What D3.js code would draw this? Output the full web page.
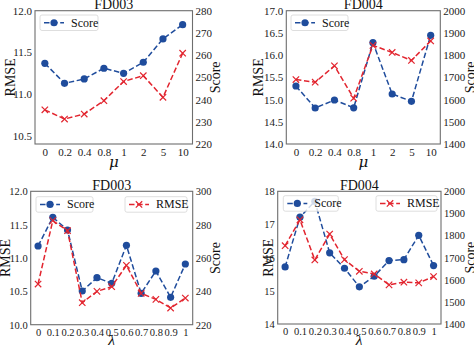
<!DOCTYPE html>
<html>
<head>
<meta charset="utf-8">
<script src="https://cdn.jsdelivr.net/npm/d3@7"></script>
<style>
  body { margin: 0; background: #fff; }
  svg { display: block; }
  svg text { font-family: "Liberation Serif", "Times New Roman", serif; }
  svg text.greek { font-family: "DejaVu Serif", serif; }
</style>
</head>
<body>
<div id="chart"></div>
<script>
const width = 474;
const height = 345;

// x categories
const muLabels = ['0', '0.2', '0.4', '0.8', '1', '2', '5', '10'];
const lambdaLabels = ['0', '0.1', '0.2', '0.3', '0.4', '0.5', '0.6', '0.7', '0.8', '0.9', '1'];

// series values
const fd003MuScore = [256.3, 247.3, 249.3, 254.1, 251.8, 256.8, 267.3, 273.7];
const fd003MuRmse = [10.81, 10.70, 10.76, 10.92, 11.15, 11.22, 10.96, 11.49];
const fd004MuScore = [1661, 1562, 1598, 1563, 1856, 1625, 1592, 1889];
const fd004MuRmse = [15.45, 15.39, 15.76, 15.03, 16.22, 16.06, 15.88, 16.32];
const fd003LamScore = [267.2, 284.4, 276.8, 240.2, 248.2, 244.8, 267.6, 238.8, 252.2, 236.4, 256.4];
const fd003LamRmse = [10.61, 11.56, 11.41, 10.33, 10.50, 10.57, 10.89, 10.47, 10.38, 10.25, 10.40];
const fd004LamScore = [1658, 1883, 1955, 1722, 1652, 1568, 1616, 1687, 1691, 1801, 1664];
const fd004LamRmse = [16.36, 17.14, 15.93, 16.71, 15.94, 15.59, 15.51, 15.18, 15.26, 15.24, 15.43];

// tick labels
const rmseTicks003Mu = ['10.5', '11.0', '11.5', '12.0'];
const rmseTicks004Mu = ['14.0', '14.5', '15.0', '15.5', '16.0', '16.5', '17.0'];
const rmseTicks003Lam = ['10.0', '10.5', '11.0', '11.5', '12.0'];
const rmseTicks004Lam = ['14', '15', '16', '17', '18'];
const scoreTicks003Mu = [220, 230, 240, 250, 260, 270, 280];
const scoreTicks003Lam = [220, 240, 260, 280, 300];
const scoreTicks004 = [1400, 1500, 1600, 1700, 1800, 1900, 2000];

const blue = '#1f4c9c';
const red = '#e2252f';

const svg = d3.select('#chart').append('svg')
  .attr('width', width)
  .attr('height', height);

const panels = [
  { title: 'FD003', x0: 35, x1: 192.5, y0: 10.7, y1: 144, titleY: 8.5, xlab: 'μ', xlabY: 167, tickFs: 11,
    cats: muLabels, score: fd003MuScore, rmse: fd003MuRmse,
    left: [10.4, 12.0], leftTicks: rmseTicks003Mu, right: [220, 280], rightTicks: scoreTicks003Mu,
    rmseX: 10, scoreX: 215, legends: [{ name: 'Score', color: blue, sym: 'o', x: 40, y: 15, w: 58 }] },
  { title: 'FD004', x0: 286.3, x1: 440.3, y0: 10.7, y1: 144, titleY: 8.5, xlab: 'μ', xlabY: 167, tickFs: 11,
    cats: muLabels, score: fd004MuScore, rmse: fd004MuRmse,
    left: [14, 17], leftTicks: rmseTicks004Mu, right: [1400, 2000], rightTicks: scoreTicks004,
    rmseX: 258.7, scoreX: 470, legends: [{ name: 'Score', color: blue, sym: 'o', x: 291, y: 15, w: 57 }] },
  { title: 'FD003', x0: 30.7, x1: 192.7, y0: 191.3, y1: 324.7, titleY: 189.5, xlab: 'λ', xlabY: 346, tickFs: 10.5,
    cats: lambdaLabels, score: fd003LamScore, rmse: fd003LamRmse,
    left: [10, 12], leftTicks: rmseTicks003Lam, right: [220, 300], rightTicks: scoreTicks003Lam,
    rmseX: 5, scoreX: 215, legends: [
      { name: 'Score', color: blue, sym: 'o', x: 36, y: 196.7, w: 57 },
      { name: 'RMSE', color: red, sym: 'x', x: 125, y: 196.7, w: 62 }] },
  { title: 'FD004', x0: 277.7, x1: 441, y0: 191.3, y1: 324, titleY: 189.5, xlab: 'λ', xlabY: 346, tickFs: 10.5,
    cats: lambdaLabels, score: fd004LamScore, rmse: fd004LamRmse,
    left: [14, 18], leftTicks: rmseTicks004Lam, right: [1400, 2000], rightTicks: scoreTicks004,
    rmseX: 268.7, scoreX: 470, legends: [
      { name: 'Score', color: blue, sym: 'o', x: 283.3, y: 195.7, w: 55 },
      { name: 'RMSE', color: red, sym: 'x', x: 376, y: 195.7, w: 61 }] }
];

function marker(g, sym, color, cx, cy) {
  if (sym === 'o') {
    g.append('circle').attr('cx', cx).attr('cy', cy).attr('r', 3.6).attr('fill', color);
  } else {
    const s = 3.2;
    g.append('path')
      .attr('d', `M${cx - s},${cy - s}L${cx + s},${cy + s}M${cx - s},${cy + s}L${cx + s},${cy - s}`)
      .attr('stroke', color).attr('stroke-width', 1.2).attr('fill', 'none');
  }
}

panels.forEach(p => {
  const g = svg.append('g');
  const x = d3.scalePoint().domain(p.cats).range([p.x0, p.x1]).padding(0.5);
  const yL = d3.scaleLinear().domain(p.left).range([p.y1, p.y0]);
  const yR = d3.scaleLinear().domain(p.right).range([p.y1, p.y0]);

  // axes, no tick marks
  const ax = g.append('g').attr('transform', `translate(0,${p.y1})`)
    .call(d3.axisBottom(x).tickSize(0).tickPadding(4));
  const al = g.append('g').attr('transform', `translate(${p.x0},0)`)
    .call(d3.axisLeft(yL).tickValues(p.leftTicks.map(Number)).tickFormat((d, i) => p.leftTicks[i]).tickSize(0).tickPadding(3));
  const ar = g.append('g').attr('transform', `translate(${p.x1},0)`)
    .call(d3.axisRight(yR).tickValues(p.rightTicks).tickFormat(d3.format('d')).tickSize(0).tickPadding(3));
  [ax, al, ar].forEach(a => {
    a.attr('font-family', null).attr('font-size', null);
    a.select('.domain').remove();
    a.selectAll('text').attr('font-size', p.tickFs).attr('fill', '#222');
  });

  // frame
  g.append('rect').attr('x', p.x0).attr('y', p.y0)
    .attr('width', p.x1 - p.x0).attr('height', p.y1 - p.y0)
    .attr('fill', 'none').attr('stroke', '#6e6e6e').attr('stroke-width', 1.1);

  // score line (right axis)
  const lineS = d3.line().x((d, i) => x(p.cats[i])).y(d => yR(d));
  g.append('path').datum(p.score).attr('d', lineS)
    .attr('fill', 'none').attr('stroke', blue).attr('stroke-width', 1.5).attr('stroke-dasharray', '5.5,2.6');
  p.score.forEach((d, i) => marker(g, 'o', blue, x(p.cats[i]), yR(d)));

  // rmse line (left axis)
  const lineR = d3.line().x((d, i) => x(p.cats[i])).y(d => yL(d));
  g.append('path').datum(p.rmse).attr('d', lineR)
    .attr('fill', 'none').attr('stroke', red).attr('stroke-width', 1.5).attr('stroke-dasharray', '5.5,2.6');
  p.rmse.forEach((d, i) => marker(g, 'x', red, x(p.cats[i]), yL(d)));

  // title and axis labels
  g.append('text').attr('x', (p.x0 + p.x1) / 2).attr('y', p.titleY)
    .attr('text-anchor', 'middle').attr('font-size', 14).attr('fill', '#111').text(p.title);
  g.append('text').attr('class', 'greek').attr('x', (p.x0 + p.x1) / 2).attr('y', p.xlabY)
    .attr('text-anchor', 'middle').attr('font-size', 15).attr('font-style', 'italic')
    .attr('fill', '#111').text(p.xlab);
  const midY = (p.y0 + p.y1) / 2;
  g.append('text').attr('transform', `translate(${p.rmseX},${midY}) rotate(-90)`)
    .attr('text-anchor', 'middle').attr('dominant-baseline', 'central')
    .attr('font-size', 14).attr('fill', '#111').text('RMSE');
  g.append('text').attr('transform', `translate(${p.scoreX},${midY}) rotate(-90)`)
    .attr('text-anchor', 'middle').attr('dominant-baseline', 'central')
    .attr('font-size', 14).attr('fill', '#111').text('Score');

  // legends
  p.legends.forEach(l => {
    const lg = g.append('g');
    lg.append('rect').attr('x', l.x).attr('y', l.y).attr('width', l.w).attr('height', 15.5)
      .attr('rx', 2).attr('fill', 'rgba(255,255,255,0.8)').attr('stroke', '#d6d6d6').attr('stroke-width', 0.8);
    const cy = l.y + 7.75;
    lg.append('line').attr('x1', l.x + 4).attr('x2', l.x + 24).attr('y1', cy).attr('y2', cy)
      .attr('stroke', l.color).attr('stroke-width', 1.5).attr('stroke-dasharray', '5.5,2.6');
    marker(lg, l.sym, l.color, l.x + 14, cy);
    lg.append('text').attr('x', l.x + 31).attr('y', cy).attr('dominant-baseline', 'central')
      .attr('font-size', 12).attr('fill', '#111').text(l.name);
  });
});
</script>
</body>
</html>
